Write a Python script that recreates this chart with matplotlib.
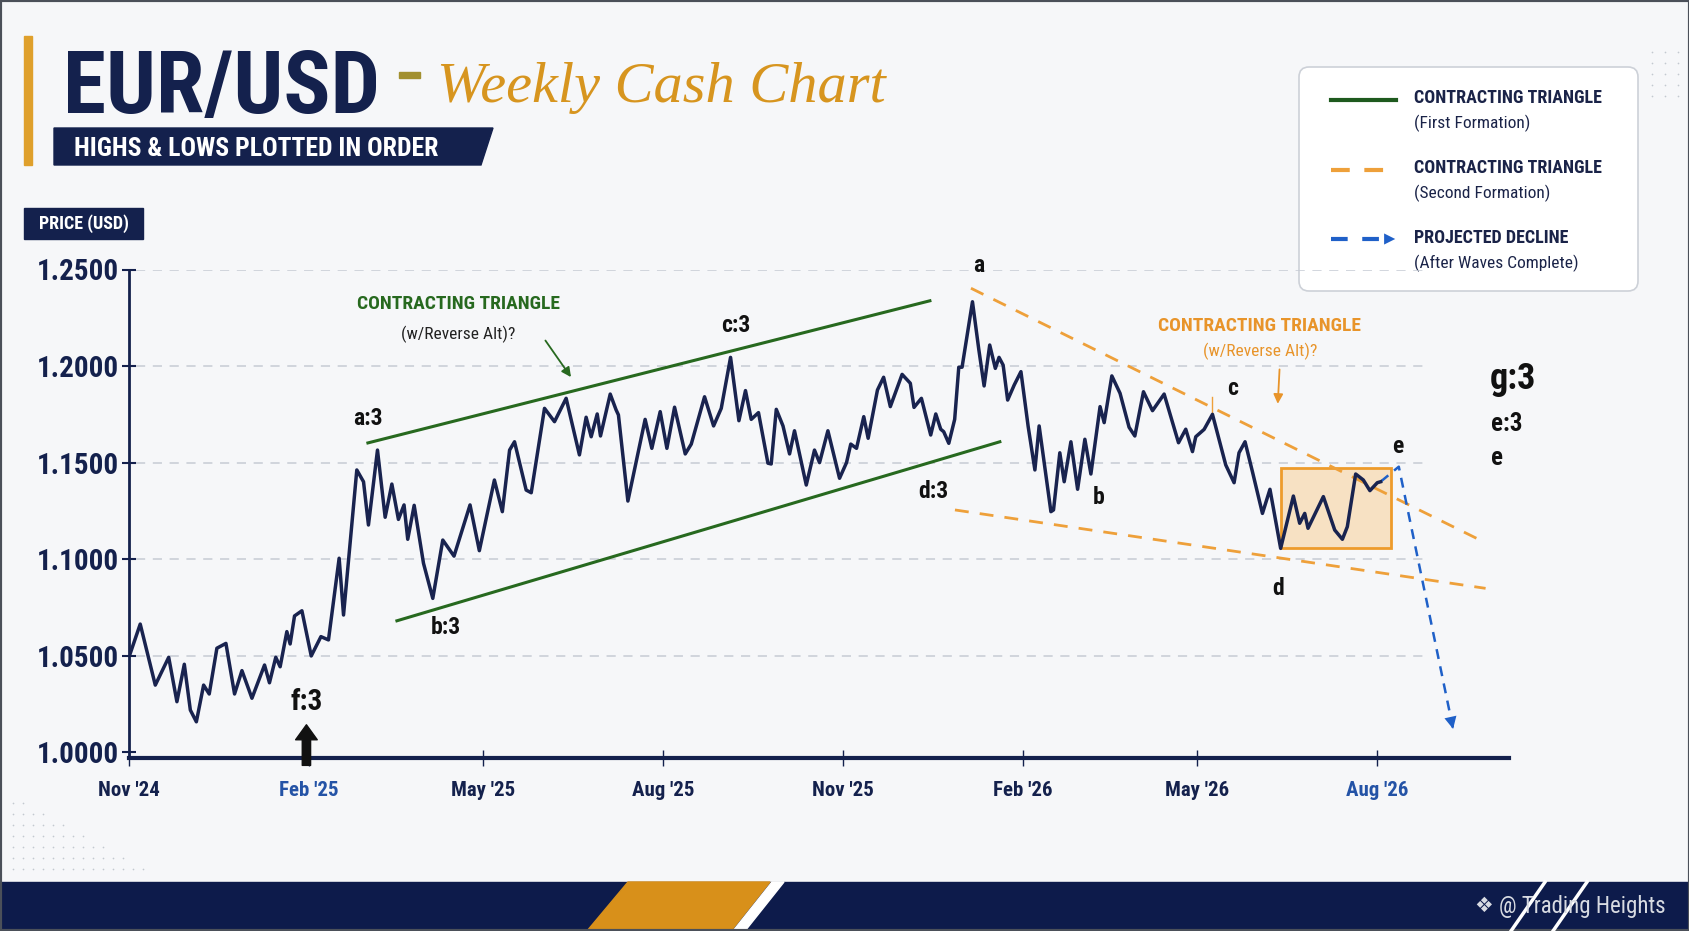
import numpy as np
import matplotlib.pyplot as plt
from matplotlib import font_manager
from matplotlib.patches import Rectangle, Polygon, FancyBboxPatch

# weekly highs & lows in order (x = weeks since 1 Nov 2024)
hl_week = [0.1, 0.82, 1.92, 2.90, 3.50, 4.04, 4.48, 4.92, 5.45, 5.86, 6.42, 7.08, 7.71, 8.25,
           8.98, 9.90, 10.26, 10.72, 11.04, 11.53, 11.77, 12.09, 12.63, 13.31, 14.02, 14.57,
           15.35, 15.67, 16.64, 17.13, 17.49, 18.15, 18.71, 19.20, 19.68, 20.09, 20.36, 20.83,
           21.51, 22.19, 22.92, 23.74, 24.91, 25.59, 26.69, 27.27, 27.80, 28.16, 29.01, 29.38,
           30.35, 31.08, 31.93, 32.90, 33.39, 33.76, 34.20, 34.44, 35.15, 35.58, 35.75, 36.44,
           37.70, 38.19, 38.80, 39.29, 39.85, 40.63, 41.07, 42.04, 42.70, 43.26, 43.94, 44.55,
           45.03, 45.45, 45.98, 46.67, 46.91, 47.28, 47.77, 48.25, 48.61, 49.47, 50.07, 50.44,
           51.05, 51.90, 52.41, 52.72, 53.14, 53.67, 53.99, 54.67, 55.12, 55.61, 56.47, 57.07,
           57.34, 57.88, 58.56, 58.93, 59.29, 59.51, 59.88, 60.31, 60.61, 60.85, 61.61, 62.07,
           62.46, 62.87, 63.28, 63.55, 63.85, 64.18, 64.66, 65.15, 65.68, 66.17, 66.48, 67.34,
           67.53, 67.99, 68.31, 68.80, 69.29, 69.82, 70.26, 70.93, 71.23, 71.79, 72.39, 73.05,
           73.47, 74.10, 74.76, 75.61, 76.66, 77.19, 77.68, 77.92, 78.53, 79.14, 80.11, 80.72,
           81.08, 81.52, 82.06, 82.79, 83.34, 84.12, 85.05, 85.51, 85.88, 86.12, 87.24, 88.07,
           88.63, 88.99, 89.60, 90.16, 90.64, 91.18, 91.42]
hl_price = [1.0514, 1.0664, 1.0348, 1.0492, 1.0262, 1.0456, 1.0219, 1.0158, 1.0348, 1.0302, 1.0539,
            1.0564, 1.0302, 1.0423, 1.0280, 1.0452, 1.0360, 1.0492, 1.0443, 1.0625, 1.0561, 1.0706,
            1.0733, 1.0499, 1.0599, 1.0582, 1.1005, 1.0711, 1.1462, 1.1401, 1.1177, 1.1565, 1.1217,
            1.1389, 1.1206, 1.1281, 1.1103, 1.1279, 1.0979, 1.0797, 1.1099, 1.1016, 1.1281, 1.1044,
            1.1410, 1.1246, 1.1565, 1.1608, 1.1358, 1.1344, 1.1781, 1.1712, 1.1833, 1.1540, 1.1735,
            1.1634, 1.1752, 1.1638, 1.1855, 1.1773, 1.1747, 1.1301, 1.1724, 1.1574, 1.1764, 1.1574,
            1.1787, 1.1545, 1.1596, 1.1841, 1.1690, 1.1781, 1.2045, 1.1717, 1.1873, 1.1724, 1.1759,
            1.1497, 1.1493, 1.1776, 1.1690, 1.1545, 1.1665, 1.1384, 1.1565, 1.1500, 1.1665, 1.1419,
            1.1500, 1.1596, 1.1574, 1.1738, 1.1626, 1.1876, 1.1942, 1.1790, 1.1957, 1.1911, 1.1786,
            1.1833, 1.1643, 1.1752, 1.1673, 1.1660, 1.1600, 1.1724, 1.1994, 1.1994, 1.2333, 1.2087,
            1.1897, 1.2109, 1.1988, 1.2045, 1.2005, 1.1824, 1.1902, 1.1971, 1.1686, 1.1462, 1.1690,
            1.1246, 1.1255, 1.1551, 1.1401, 1.1608, 1.1362, 1.1621, 1.1441, 1.1790, 1.1707, 1.1949,
            1.1859, 1.1683, 1.1638, 1.1867, 1.1769, 1.1855, 1.1603, 1.1673, 1.1557, 1.1634, 1.1672,
            1.1750, 1.1488, 1.1396, 1.1551, 1.1608, 1.1453, 1.1237, 1.1362, 1.1056, 1.1327, 1.1186,
            1.1237, 1.1160, 1.1324, 1.1151, 1.1103, 1.1168, 1.1441, 1.1410, 1.1355, 1.1396, 1.1401]

# projection after wave e
proj_week = [91.42, 92.75, 96.76]
proj_price = [1.1401, 1.1479, 1.0107]

# triangle boundaries (start, end)
green_upper = ([17.45, 58.5], [1.1602, 1.2338])
green_lower = ([19.57, 63.61], [1.0681, 1.1608])
orange_upper = ([61.5, 98.66], [1.2403, 1.1100])
orange_lower = ([60.33, 99.09], [1.1255, 1.0849])
c_wick = ([79.14, 79.14], [1.1750, 1.1841])
e_box = (84.12, 92.2, 1.1056, 1.1474)

month_starts = np.array(['2024-11-01', '2025-02-01', '2025-05-01', '2025-08-01',
                         '2025-11-01', '2026-02-01', '2026-05-01', '2026-08-01'], dtype='datetime64[D]')
month_labels = ["Nov '24", "Feb '25", "May '25", "Aug '25", "Nov '25", "Feb '26", "May '26", "Aug '26"]
price_ticks = [1.0, 1.05, 1.10, 1.15, 1.20, 1.25]

# wave labels: text, week, price, size, weight
wave_labels = [('a:3', 17.44, 1.1726, 17, 'bold'), ('b:3', 23.18, 1.0644, 17, 'bold'),
               ('c:3', 44.34, 1.2210, 17, 'bold'), ('d:3', 58.79, 1.1350, 17, 'bold'),
               ('a', 62.05, 1.2523, 17, 'bold'), ('b', 70.84, 1.1317, 17, 'bold'),
               ('c', 80.62, 1.1886, 17, 'bold'), ('d', 83.9, 1.0848, 17, 'bold'),
               ('e', 92.66, 1.1581, 17, 'bold'), ('g:3', 101.1, 1.1933, 26, 'bold'),
               ('e:3', 100.6, 1.1702, 18, 'semibold'), ('e', 99.9, 1.1524, 18, 'bold'),
               ('f:3', 12.96, 1.0262, 21, 'bold')]

names = {f.name for f in font_manager.fontManager.ttflist}
COND = next((n for n in ['Liberation Sans Narrow', 'Roboto Condensed', 'Roboto'] if n in names), 'DejaVu Sans')
SERIF = 'Liberation Serif' if 'Liberation Serif' in names else 'DejaVu Serif'

NAVY = '#14214D'
LINE = '#19234F'
GREEN = '#27691F'
ORANGE = '#EEA03A'
OTEXT = '#E8942A'
BLUE = '#1F60C8'
GOLD = '#DFA02C'

W, H = 1690, 931
fig = plt.figure(figsize=(W / 100, H / 100), dpi=100)
fig.patch.set_facecolor('#F6F7F9')

# background / header layer in pixel coordinates
bg = fig.add_axes([0, 0, 1, 1], zorder=0)
bg.set_xlim(0, W)
bg.set_ylim(H, 0)
bg.axis('off')

bg.add_patch(Rectangle((24, 36), 8, 129, color=GOLD))
bg.text(63, 113, 'EUR/USD', fontsize=63, fontweight='bold', family=COND, color=NAVY, va='baseline')
bg.add_patch(Rectangle((399, 72), 21, 6, color='#A2902F'))
bg.text(437, 102, 'Weekly Cash Chart', fontsize=42, style='italic', family=SERIF, color='#D7951F', va='baseline')
bg.add_patch(Polygon([(54, 128), (493, 128), (481, 165), (54, 165)], closed=True, color=NAVY))
bg.text(74, 156, 'HIGHS & LOWS PLOTTED IN ORDER', fontsize=18.5, fontweight='bold', family=COND,
        color='white', va='baseline')
bg.add_patch(Rectangle((24, 208), 119, 31, color=NAVY))
bg.text(83.5, 224, 'PRICE (USD)', fontsize=13, fontweight='bold', family=COND, color='white',
        ha='center', va='center')

# legend box
bg.add_patch(FancyBboxPatch((1299, 67), 339, 224, boxstyle='round,pad=0,rounding_size=10',
                            fc='white', ec='#CDD1D8', lw=1.2))
bg.plot([1331, 1396], [100, 100], color='#1E5A1E', lw=3)
bg.plot([1331, 1396], [170, 170], color=ORANGE, lw=3, dashes=(4.5, 3.5))
bg.plot([1331, 1382], [239, 239], color=BLUE, lw=3, dashes=(4, 3.5))
bg.annotate('', xy=(1398, 239), xytext=(1384, 239),
            arrowprops=dict(arrowstyle='-|>', color=BLUE, lw=0, mutation_scale=20))
leg_text = [('CONTRACTING TRIANGLE', '(First Formation)'),
            ('CONTRACTING TRIANGLE', '(Second Formation)'),
            ('PROJECTED DECLINE', '(After Waves Complete)')]
for (t1, t2), yy in zip(leg_text, [98, 168, 238]):
    bg.text(1414, yy, t1, fontsize=13, fontweight='bold', family=COND, color='#1A2348', va='center')
    bg.text(1414, yy + 25, t2, fontsize=12.5, family=COND, color='#1A2348', va='center')

# decorative dots
for r in range(7):
    xs = 13 + 10 * np.arange(2 + 2 * r)
    bg.scatter(xs, np.full(len(xs), 803 + 11 * r), s=1.5, color='#C3C8D0', lw=0)
for r in range(5):
    bg.scatter([1652, 1665, 1678], [52 + 11 * r] * 3, s=1.5, color='#C3C8D0', lw=0)

# bottom band
bg.add_patch(Rectangle((0, 882), W, 49, color='#0D1B4B'))
bg.add_patch(Polygon([(628, 882), (770, 882), (731, 931), (587, 931)], closed=True, color='#D8901A'))
bg.add_patch(Polygon([(772, 882), (784, 882), (745, 931), (733, 931)], closed=True, color='white'))
bg.plot([1545, 1511], [882, 931], color='white', lw=2.5)
bg.plot([1587, 1553], [882, 931], color='white', lw=2.5)
bg.text(1474, 906, '\u2756', fontsize=15, color='#D8DBE2', va='center', family='DejaVu Sans')
bg.text(1499, 906, '@ Trading Heights', fontsize=16.5, color='#D8DBE2', va='center', family=COND)
bg.add_patch(Rectangle((0, 0), W, H, fill=False, ec='#4B5059', lw=3))

# main chart
ax = fig.add_axes([129 / W, (H - 758.3) / H, (1509 - 129) / W, (758.3 - 269.5) / H], zorder=1)
ax.patch.set_alpha(0)
ax.set_xlim(0.1, 100.8)
ax.set_ylim(0.9969, 1.25)
for s in ['top', 'right']:
    ax.spines[s].set_visible(False)
ax.spines['left'].set_color(NAVY)
ax.spines['left'].set_linewidth(2)
ax.spines['bottom'].set_color(NAVY)
ax.spines['bottom'].set_linewidth(3)

tick_wk = (month_starts - month_starts[0]).astype(int) / 7
ax.set_xticks(tick_wk)
ax.set_xticklabels(month_labels)
ax.set_yticks(price_ticks)
ax.set_yticklabels([f'{v:.4f}' for v in price_ticks])
ax.tick_params(axis='y', direction='inout', length=10, width=1.5, color=NAVY, pad=2,
               labelsize=21, labelcolor=NAVY)
ax.tick_params(axis='x', direction='inout', length=12, width=1, color=NAVY, pad=10,
               labelsize=15, labelcolor=NAVY)
for lab in ax.get_xticklabels() + ax.get_yticklabels():
    lab.set_family(COND)
    lab.set_fontweight('bold')
for i in (1, 7):
    ax.get_xticklabels()[i].set_color('#2453A6')

ax.hlines(price_ticks[1:], 0.5, 95, colors='#C6CBD4', linestyles=(0, (6, 5)), lw=1.1, zorder=1)

ax.add_patch(Rectangle((e_box[0], e_box[2]), e_box[1] - e_box[0], e_box[3] - e_box[2],
                       fc='#F9D6A6', alpha=0.65, ec='none', zorder=2))
ax.add_patch(Rectangle((e_box[0], e_box[2]), e_box[1] - e_box[0], e_box[3] - e_box[2],
                       fill=False, ec='#EE9B2B', lw=2, zorder=3))

ax.plot(*green_upper, color=GREEN, lw=2.2, zorder=3)
ax.plot(*green_lower, color=GREEN, lw=2.2, zorder=3)
ax.plot(*orange_upper, color=ORANGE, lw=2, dashes=(5, 4), zorder=3)
ax.plot(*orange_lower, color=ORANGE, lw=2, dashes=(5, 4), zorder=3)
ax.plot(*c_wick, color=ORANGE, lw=1, zorder=3)

ax.plot(hl_week, hl_price, color=LINE, lw=2.5, zorder=5)

ax.plot(proj_week, proj_price, color=BLUE, lw=1.8, dashes=(4, 3), zorder=4)
ax.annotate('', xy=(proj_week[2], proj_price[2]),
            xytext=(proj_week[2] - 0.25, proj_price[2] + 0.008),
            arrowprops=dict(arrowstyle='-|>', color=BLUE, lw=0, mutation_scale=22), zorder=4)

for txt, wx, py, fs, fw in wave_labels:
    ax.text(wx, py, txt, fontsize=fs, fontweight=fw, family=COND, color='#111111',
            ha='center', va='center', zorder=6)

# f:3 arrow
ax.annotate('', xy=(12.96, 1.0157), xytext=(12.96, 0.9918), annotation_clip=False,
            arrowprops=dict(arrowstyle='simple,head_width=1.3,head_length=0.9,tail_width=0.5',
                            color='#111111', mutation_scale=12), zorder=6)

# triangle captions
ax.text(24.1, 1.2321, 'CONTRACTING TRIANGLE', fontsize=14, fontweight='bold', family=COND,
        color=GREEN, ha='center', va='center')
ax.text(24.05, 1.2166, '(w/Reverse Alt)?', fontsize=12.5, family=COND, color='#222222',
        ha='center', va='center')
ax.annotate('', xy=(32.4, 1.1931), xytext=(30.3, 1.2144),
            arrowprops=dict(arrowstyle='-|>', color=GREEN, lw=1.3, mutation_scale=14))
ax.text(82.6, 1.2210, 'CONTRACTING TRIANGLE', fontsize=14, fontweight='bold', family=COND,
        color=OTEXT, ha='center', va='center')
ax.text(82.6, 1.2078, '(w/Reverse Alt)?', fontsize=12.5, family=COND, color=OTEXT,
        ha='center', va='center')
ax.annotate('', xy=(83.9, 1.1790), xytext=(84.05, 1.1997),
            arrowprops=dict(arrowstyle='-|>', color=OTEXT, lw=1.3, mutation_scale=14))

fig.savefig('out.png', dpi=100, facecolor=fig.get_facecolor())
